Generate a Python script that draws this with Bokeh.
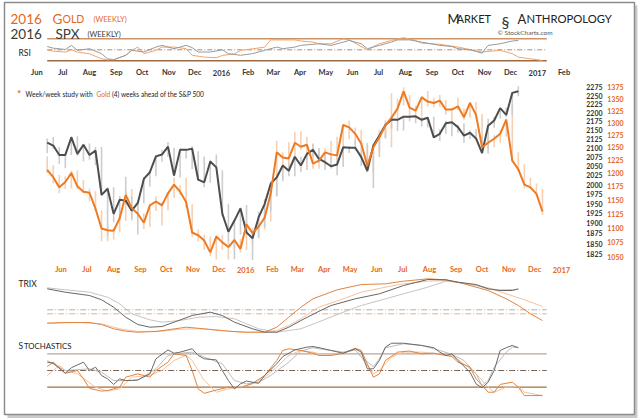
import numpy as np
import pandas as pd
from bokeh.plotting import figure
from bokeh.models import Range1d, LogScale
from bokeh.core.properties import value
from bokeh.embed import file_html
from bokeh.resources import INLINE

# ---------------- data ----------------
spx_start = "2015-06-19"     # first SPX weekly bar
gold_start = "2015-05-22"    # first Gold weekly bar (plotted 4 weeks ahead)

spx_close = [2114, 2106, 2080, 2080, 2129, 2083, 2108, 2080, 2092, 1973,
             1989, 1924, 1960, 1958, 1932, 1952, 2015, 2033, 2076, 2081,
             2103, 2024, 2094, 2094, 2097, 2013, 2006, 2062, 2046, 1924,
             1879, 1907, 1938, 1877, 1863, 1915, 1949, 2002, 2019, 2051,
             2037, 2075, 2051, 2083, 2094, 2069, 2060, 2049, 2054, 2101,
             2100, 2100, 2074, 2037, 2106, 2134, 2164, 2180, 2179, 2188,
             2188, 2189, 2179, 2185, 2129, 2139, 2169, 2172, 2158, 2134,
             2142, 2126, 2085, 2162, 2177, 2213, 2193, 2258, 2263]
spx_high = [2126, 2130, 2102, 2082, 2132, 2132, 2111, 2112, 2102, 2103,
            1993, 1993, 1970, 2021, 1968, 1952, 2020, 2034, 2079, 2094,
            2116, 2100, 2097, 2094, 2104, 2090, 2076, 2067, 2081, 2038,
            1950, 1908, 1940, 1947, 1881, 1930, 1962, 2009, 2022, 2052,
            2056, 2075, 2075, 2083, 2112, 2099, 2084, 2084, 2073, 2102,
            2105, 2120, 2096, 2113, 2108, 2136, 2169, 2182, 2181, 2190,
            2190, 2191, 2187, 2187, 2188, 2152, 2176, 2174, 2164, 2169,
            2148, 2152, 2131, 2182, 2188, 2214, 2214, 2260, 2278]
spx_low = [2085, 2098, 2056, 2044, 2080, 2078, 2063, 2067, 2052, 1970,
           1867, 1903, 1910, 1953, 1908, 1872, 1951, 1995, 2022, 2061,
           2075, 2022, 2019, 2070, 2042, 2010, 1993, 2005, 2043, 1918,
           1857, 1812, 1872, 1872, 1810, 1865, 1891, 1931, 1969, 2009,
           2022, 2022, 2033, 2039, 2075, 2059, 2039, 2043, 2025, 2047,
           2085, 2093, 2050, 2032, 1991, 2074, 2126, 2155, 2147, 2148,
           2175, 2169, 2160, 2157, 2127, 2119, 2139, 2132, 2142, 2114,
           2124, 2123, 2084, 2083, 2156, 2183, 2187, 2192, 2248]

gold_close = [1206, 1192, 1173, 1183, 1200, 1175, 1165, 1163, 1134, 1099,
              1096, 1095, 1117, 1159, 1135, 1125, 1109, 1140, 1147, 1140,
              1162, 1178, 1165, 1146, 1092, 1087, 1078, 1058, 1085, 1075,
              1067, 1079, 1064, 1106, 1091, 1102, 1118, 1161, 1240, 1230,
              1228, 1259, 1251, 1255, 1218, 1224, 1240, 1236, 1234, 1295,
              1290, 1277, 1257, 1214, 1250, 1270, 1294, 1310, 1329, 1366,
              1331, 1325, 1353, 1344, 1341, 1346, 1327, 1327, 1334, 1311,
              1341, 1316, 1250, 1259, 1267, 1277, 1306, 1224, 1207, 1178,
              1173, 1161, 1129]
gold_high = [1232, 1215, 1196, 1194, 1205, 1205, 1187, 1171, 1166, 1131,
             1105, 1099, 1126, 1168, 1170, 1147, 1126, 1142, 1156, 1146,
             1164, 1191, 1177, 1191, 1142, 1097, 1088, 1085, 1087, 1088,
             1080, 1082, 1081, 1111, 1100, 1110, 1128, 1163, 1263, 1240,
             1260, 1281, 1282, 1271, 1256, 1245, 1248, 1263, 1271, 1297,
             1304, 1290, 1285, 1253, 1252, 1285, 1305, 1362, 1350, 1375,
             1358, 1335, 1356, 1367, 1352, 1358, 1347, 1331, 1352, 1330,
             1343, 1343, 1318, 1266, 1274, 1284, 1308, 1338, 1240, 1217,
             1191, 1180, 1170]
gold_low = [1200, 1180, 1162, 1170, 1171, 1169, 1162, 1147, 1130, 1077,
            1077, 1080, 1092, 1112, 1118, 1120, 1098, 1102, 1130, 1104,
            1131, 1154, 1159, 1136, 1085, 1077, 1062, 1052, 1046, 1062,
            1046, 1066, 1058, 1062, 1072, 1082, 1097, 1111, 1157, 1192,
            1216, 1224, 1245, 1226, 1208, 1208, 1214, 1224, 1228, 1225,
            1266, 1258, 1246, 1206, 1200, 1240, 1269, 1250, 1309, 1336,
            1310, 1312, 1313, 1333, 1332, 1333, 1316, 1302, 1326, 1306,
            1310, 1309, 1241, 1248, 1250, 1259, 1271, 1220, 1203, 1171,
            1171, 1156, 1123]

# RSI (week index, value)
rsi_spx_wk = [0, 1, 3, 4, 5, 7, 9, 10, 11, 13, 14, 16, 18, 19, 21, 23, 24, 25, 27, 29,
              30, 32, 34, 36, 38, 39, 41, 42, 44, 45, 47, 49, 50, 52, 53, 55, 57, 58, 60, 62,
              63, 65, 67, 68, 70, 72, 73, 75, 77, 78]
rsi_spx = [56, 53, 50.6, 58, 49, 52, 43, 33.6, 32, 40, 49, 46, 55, 58, 52, 58, 54, 46, 46, 50,
           43, 40, 43, 49, 55, 52, 55, 58, 60, 61, 58, 64, 67, 61, 52, 58, 64, 68, 68, 64,
           62, 58, 56, 52, 50, 44, 58, 61, 66, 67]
rsi_gold_wk = [0, 1, 3, 4, 5, 7, 9, 10, 11, 13, 14, 15, 16, 18, 19, 21, 23, 24, 26, 28,
               29, 31, 32, 34, 36, 37, 39, 41, 42, 44, 45, 47, 49, 50, 53, 55, 57, 59, 61, 62,
               65, 68, 72, 75, 77, 78, 80, 82]
rsi_gold = [50, 47.6, 45.8, 50, 45.8, 42.7, 33.6, 31.8, 31.8, 40, 49, 55, 43, 49, 55, 55, 52, 40, 36.7, 35.5,
            39.7, 42.7, 48.8, 51.8, 54.8, 68, 68, 68, 66, 64, 61, 61, 70, 68, 50, 61, 67, 72, 67, 62,
            60, 55, 46, 49, 43, 36.7, 33.6, 30.6]

# TRIX and signal
trix_spx_wk = [0, 3, 7, 9, 11, 13, 15, 17, 19, 21, 24, 27, 29, 31, 34, 36, 38, 40, 42, 45,
               47, 51, 55, 59, 63, 66, 68, 71, 73, 75, 77, 78]
trix_spx = [0.21, 0.176, 0.143, 0.10, 0.026, -0.074, -0.147, -0.174, -0.167, -0.124,
            -0.057, -0.024, -0.057, -0.124, -0.19, -0.224, -0.224, -0.174, -0.107, -0.015,
            0.043, 0.11, 0.16, 0.243, 0.303, 0.30, 0.276, 0.253, 0.21, 0.193, 0.193, 0.21]
trix_spx_sig_wk = [0, 3, 7, 10, 12, 14, 17, 19, 22, 25, 28, 31, 33, 35, 38, 40, 42, 45, 49, 52,
                   56, 59, 63, 66, 68, 71, 73, 75, 78]
trix_spx_sig = [0.22, 0.20, 0.176, 0.126, 0.06, -0.04, -0.10, -0.124, -0.107, -0.074,
                -0.067, -0.09, -0.14, -0.19, -0.224, -0.207, -0.19, -0.12, -0.024, 0.043,
                0.11, 0.16, 0.226, 0.286, 0.276, 0.243, 0.21, 0.20, 0.203]
trix_gold_wk = [0, 3, 7, 9, 11, 13, 15, 18, 20, 23, 26, 30, 33, 36, 38, 40, 42, 44, 45, 48,
                52, 56, 59, 63, 66, 69, 73, 76, 78, 80, 82]
trix_gold = [-0.094, -0.087, -0.087, -0.107, -0.15, -0.174, -0.184, -0.177, -0.16, -0.134,
             -0.15, -0.174, -0.184, -0.184, -0.134, -0.034, 0.066, 0.15, 0.173, 0.24,
             0.293, 0.30, 0.326, 0.35, 0.34, 0.30, 0.233, 0.15, 0.083, 0.0, -0.067]
trix_gold_sig_wk = [0, 5, 9, 12, 15, 19, 22, 25, 29, 32, 36, 38, 40, 42, 44, 45, 49, 52, 56, 59,
                    63, 66, 69, 73, 76, 79, 82]
trix_gold_sig = [-0.094, -0.087, -0.10, -0.15, -0.177, -0.174, -0.154, -0.15, -0.167, -0.184,
                 -0.184, -0.167, -0.117, -0.05, 0.033, 0.066, 0.15, 0.216, 0.266, 0.30,
                 0.326, 0.333, 0.306, 0.26, 0.20, 0.14, 0.073]

# Stochastics %K / %D
sto_spx_k_wk = [0, 1, 3, 4, 6, 7, 8, 9, 10, 11, 12, 13, 14, 15, 17, 18, 20, 21, 22, 24,
                25, 26, 28, 29, 30, 31, 32, 33, 35, 36, 38, 39, 41, 43, 44, 45, 47, 49, 51, 52,
                53, 54, 55, 56, 57, 59, 62, 64, 65, 66, 67, 68, 70, 71, 72, 73, 74, 75, 76, 77, 78]
sto_spx_k = [65, 63, 45, 55, 65, 50, 56, 41, 35, 25, 35, 32, 32, 33, 44, 71, 87, 81, 83, 89,
             77, 71, 69, 50, 32, 17, 26, 31, 27, 41, 62, 75, 87, 92, 93, 91, 86, 81, 89, 83,
             53, 53, 68, 92, 99, 99, 95, 91, 83, 77, 80, 68, 47, 26, 19, 29, 50, 86, 91, 95, 91]
sto_spx_d_wk = [0, 3, 7, 9, 11, 13, 15, 18, 20, 22, 24, 26, 29, 31, 33, 35, 37, 40, 42, 44,
                45, 49, 51, 52, 54, 55, 56, 59, 62, 65, 67, 69, 71, 72, 73, 74, 76, 77, 78]
sto_spx_d = [68, 50, 53, 47, 32, 32, 33, 53, 77, 81, 83, 74, 62, 32, 26, 29, 41, 65, 85, 91,
             89, 83, 87, 74, 57, 71, 91, 98, 95, 86, 79, 68, 44, 23, 32, 56, 83, 92, 91]
sto_gold_k_wk = [0, 1, 3, 5, 6, 7, 9, 10, 12, 13, 15, 17, 18, 20, 21, 23, 24, 25, 26, 28,
                 30, 32, 34, 36, 38, 39, 40, 42, 44, 45, 47, 49, 51, 52, 53, 54, 55, 56, 58, 60,
                 62, 64, 66, 67, 68, 70, 71, 73, 74, 75, 77, 78, 79, 80, 82]
sto_gold_k = [57, 65, 45, 50, 35, 18, 13, 14, 20, 38, 44, 38, 50, 65, 80, 77, 50, 17, 9, 15,
              20, 19, 27, 41, 68, 86, 89, 86, 81, 77, 77, 81, 90, 86, 62, 38, 44, 68, 83, 85,
              80, 81, 77, 75, 65, 56, 35, 11, 11, 25, 29, 20, 5, 5, 5]
sto_gold_d_wk = [0, 2, 3, 5, 8, 10, 12, 14, 17, 19, 21, 23, 24, 26, 28, 30, 32, 34, 36, 38,
                 40, 42, 44, 45, 48, 51, 52, 54, 55, 57, 59, 62, 65, 67, 69, 71, 73, 74, 76, 78,
                 79, 82]
sto_gold_d = [41, 59, 50, 44, 20, 13, 17, 38, 41, 50, 68, 77, 68, 32, 11, 17, 20, 26, 38, 56,
              77, 86, 83, 80, 79, 87, 74, 44, 50, 74, 83, 83, 80, 77, 62, 44, 20, 11, 20, 21,
              11, 5]

# tick labels
top_tick_dates = ["2015-06-01", "2015-07-01", "2015-08-01", "2015-09-01", "2015-10-01", "2015-11-01",
                  "2015-12-01", "2016-01-01", "2016-02-01", "2016-03-01", "2016-04-01", "2016-05-01",
                  "2016-06-01", "2016-07-01", "2016-08-01", "2016-09-01", "2016-10-01", "2016-11-01",
                  "2016-12-01", "2017-01-01", "2017-02-01"]
top_tick_labels = ["Jun", "Jul", "Aug", "Sep", "Oct", "Nov", "Dec", "2016", "Feb", "Mar", "Apr", "May",
                   "Jun", "Jul", "Aug", "Sep", "Oct", "Nov", "Dec", "2017", "Feb"]
bot_tick_dates = top_tick_dates[:-1]
bot_tick_labels = top_tick_labels[:-1]
spx_axis_ticks = list(range(1825, 2276, 25))
gold_axis_ticks = list(range(1050, 1376, 25))

# ---------------- layout helpers ----------------
W, H = 640, 420
X0, DX = 46.7, 6.04          # pixel of week 0, pixels per week
FONT = value("Lato")
ORANGE = "#ee7a22"
ORANGE_TXT = "#e5671b"
DARK = "#4d4d4d"


def lin_range(va, ya, vb, yb):
    k = (vb - va) / (yb - ya)
    return Range1d(start=va + (H - ya) * k, end=va - ya * k)


def log_range(va, ya, vb, yb):
    la, lb = np.log(va), np.log(vb)
    k = (lb - la) / (yb - ya)
    return Range1d(start=float(np.exp(la + (H - ya) * k)), end=float(np.exp(la - ya * k)))


def wk_index(dates, start, shift_days=6):
    d = pd.to_datetime(dates) - pd.Timestamp(start)
    return list((d.days + shift_days) / 7.0)


p = figure(width=W, height=H, output_backend="svg", toolbar_location=None,
           x_range=Range1d(-X0 / DX, (W - X0) / DX), y_range=Range1d(H, 0),
           x_axis_location=None, y_axis_location=None, min_border=0,
           outline_line_color=None, background_fill_color="white",
           border_fill_color="white")
p.xgrid.grid_line_color = None
p.ygrid.grid_line_color = None
p.extra_x_ranges = {"px": Range1d(0, W)}
p.extra_y_ranges = {
    "spx": log_range(2275, 86.7, 1825, 253.3),
    "gold": log_range(1375, 86.7, 1050, 256.7),
    "rsi": lin_range(70, 38.3, 30, 60.3),
    "trix_s": lin_range(0, 309.3, 0.1, 299.3),
    "trix_g": lin_range(0, 313.3, 0.1, 303.3),
    "sto": lin_range(80, 353.3, 20, 386.7),
}
p.extra_y_scales = {"spx": LogScale(), "gold": LogScale()}

# panel with shadow
p.quad(left=[7], right=[637], top=[5], bottom=[417.5], x_range_name="px",
       fill_color="#a0a0a0", fill_alpha=0.55, line_color=None)
p.quad(left=[4], right=[634], top=[2], bottom=[414], x_range_name="px",
       fill_color="white", line_color="#8c8c8c", line_width=1.5)

n_band = len(gold_close)
band_x = [0, n_band - 0.3]

# ---- RSI panel ----
p.line(band_x, [70, 70], y_range_name="rsi", line_color="#c9936b", line_width=1.4)
p.line(band_x, [30, 30], y_range_name="rsi", line_color="#9c6a45", line_width=1.4)
p.line(band_x, [50, 50], y_range_name="rsi", line_color="#8a7466", line_width=0.8, line_dash="5 2 1 2")
p.line(rsi_gold_wk, rsi_gold, y_range_name="rsi", line_color="#f0a46a", line_width=1)
p.line(rsi_spx_wk, rsi_spx, y_range_name="rsi", line_color="#9a9a9a", line_width=1)

# ---- main price panel ----
spx_x = np.arange(len(spx_close))
gold_x = np.arange(len(gold_close))
p.segment(x0=gold_x, y0=gold_low, x1=gold_x, y1=gold_high, y_range_name="gold",
          line_color="#f7cfb2", line_width=1.6)
p.segment(x0=spx_x, y0=spx_low, x1=spx_x, y1=spx_high, y_range_name="spx",
          line_color="#cdcdcd", line_width=1.6)
p.line(spx_x, spx_close, y_range_name="spx", line_color=DARK, line_width=2)
p.line(gold_x, gold_close, y_range_name="gold", line_color=ORANGE, line_width=2)

# ---- TRIX panel ----
p.line(band_x, [0, 0], y_range_name="trix_s", line_color="#a8a8a8", line_width=0.9, line_dash="6 2 1 2")
p.line(band_x, [0, 0], y_range_name="trix_g", line_color="#eaa57a", line_width=0.9, line_dash="6 2 1 2")
p.line(trix_spx_sig_wk, trix_spx_sig, y_range_name="trix_s", line_color="#c4c4c4", line_width=1)
p.line(trix_gold_sig_wk, trix_gold_sig, y_range_name="trix_g", line_color="#f5c29e", line_width=1)
p.line(trix_gold_wk, trix_gold, y_range_name="trix_g", line_color="#e0843f", line_width=1)
p.line(trix_spx_wk, trix_spx, y_range_name="trix_s", line_color="#666666", line_width=1)

# ---- Stochastics panel ----
p.line(band_x, [80, 80], y_range_name="sto", line_color="#b9a697", line_width=1.3)
p.line(band_x, [20, 20], y_range_name="sto", line_color="#a3703f", line_width=1.3)
p.line(band_x, [50, 50], y_range_name="sto", line_color="#6f5444", line_width=0.9, line_dash="6 2 1 2")
p.line(sto_gold_d_wk, sto_gold_d, y_range_name="sto", line_color="#f5c29e", line_width=1)
p.line(sto_spx_d_wk, sto_spx_d, y_range_name="sto", line_color="#bdbdbd", line_width=1)
p.line(sto_gold_k_wk, sto_gold_k, y_range_name="sto", line_color="#e0843f", line_width=1)
p.line(sto_spx_k_wk, sto_spx_k, y_range_name="sto", line_color="#6a6a6a", line_width=1)

# ---- axis labels ----
p.text(x=wk_index(top_tick_dates, spx_start), y=[72] * len(top_tick_labels), text=top_tick_labels,
       text_font=FONT, text_font_style="bold", text_font_size="7.5px", text_color="#333333",
       text_align="center", text_baseline="middle")
p.text(x=wk_index(bot_tick_dates, gold_start), y=[269] * len(bot_tick_labels), text=bot_tick_labels,
       text_font=FONT, text_font_style="bold", text_font_size="7.5px", text_color=ORANGE_TXT,
       text_align="center", text_baseline="middle")
p.text(x=[602] * len(spx_axis_ticks), y=spx_axis_ticks, text=[str(v) for v in spx_axis_ticks],
       x_range_name="px", y_range_name="spx", text_font=FONT, text_font_style="bold",
       text_font_size="7px", text_color="#333333", text_align="right", text_baseline="middle")
p.text(x=[623] * len(gold_axis_ticks), y=gold_axis_ticks, text=[str(v) for v in gold_axis_ticks],
       x_range_name="px", y_range_name="gold", text_font=FONT, text_font_style="bold",
       text_font_size="7px", text_color=ORANGE_TXT, text_align="right", text_baseline="middle")


def label(x, y, s, size, color="#222222", style="normal", align="left"):
    p.text(x=[x], y=[y], text=[s], x_range_name="px", text_font=FONT, text_font_size=size,
           text_color=color, text_font_style=style, text_align=align, text_baseline="alphabetic")


# titles
label(10, 18.5, "2016", "13.5px", ORANGE_TXT)
label(52, 18.5, "G", "13.5px", ORANGE_TXT)
label(62, 18.5, "OLD", "10.5px", ORANGE_TXT)
label(93, 18.5, "(WEEKLY)", "7.5px", ORANGE_TXT)
label(10, 33.5, "2016", "13.5px", "#3a3a3a")
label(55, 33.5, "SPX", "13.5px", "#3a3a3a")
label(87, 33.5, "(WEEKLY)", "7.5px", "#3a3a3a")

label(447, 18.3, "M", "13px")
label(456, 18.3, "ARKET", "11px")
label(505, 21, "§", "16px", "#333333", align="center")
label(517, 18.3, "A", "13px")
label(526, 18.3, "NTHROPOLOGY", "11.3px")
label(497, 32, "© StockCharts.com", "6.5px", "#555555")

label(18, 52.7, "RSI", "8.5px")
label(18, 283.3, "TRIX", "8.5px")
label(18, 345, "S", "8.5px")
label(23.5, 345, "TOCHASTICS", "7.8px")

label(16.5, 92, "*", "10px", ORANGE_TXT, style="bold")
label(25, 93, "Week/week study with", "6.6px")
label(96, 93, "Gold", "6.6px", ORANGE_TXT)
label(111.5, 93, "(4) weeks ahead of the S&P 500", "6.6px")

open("out.html", "w").write(file_html(p, INLINE))
